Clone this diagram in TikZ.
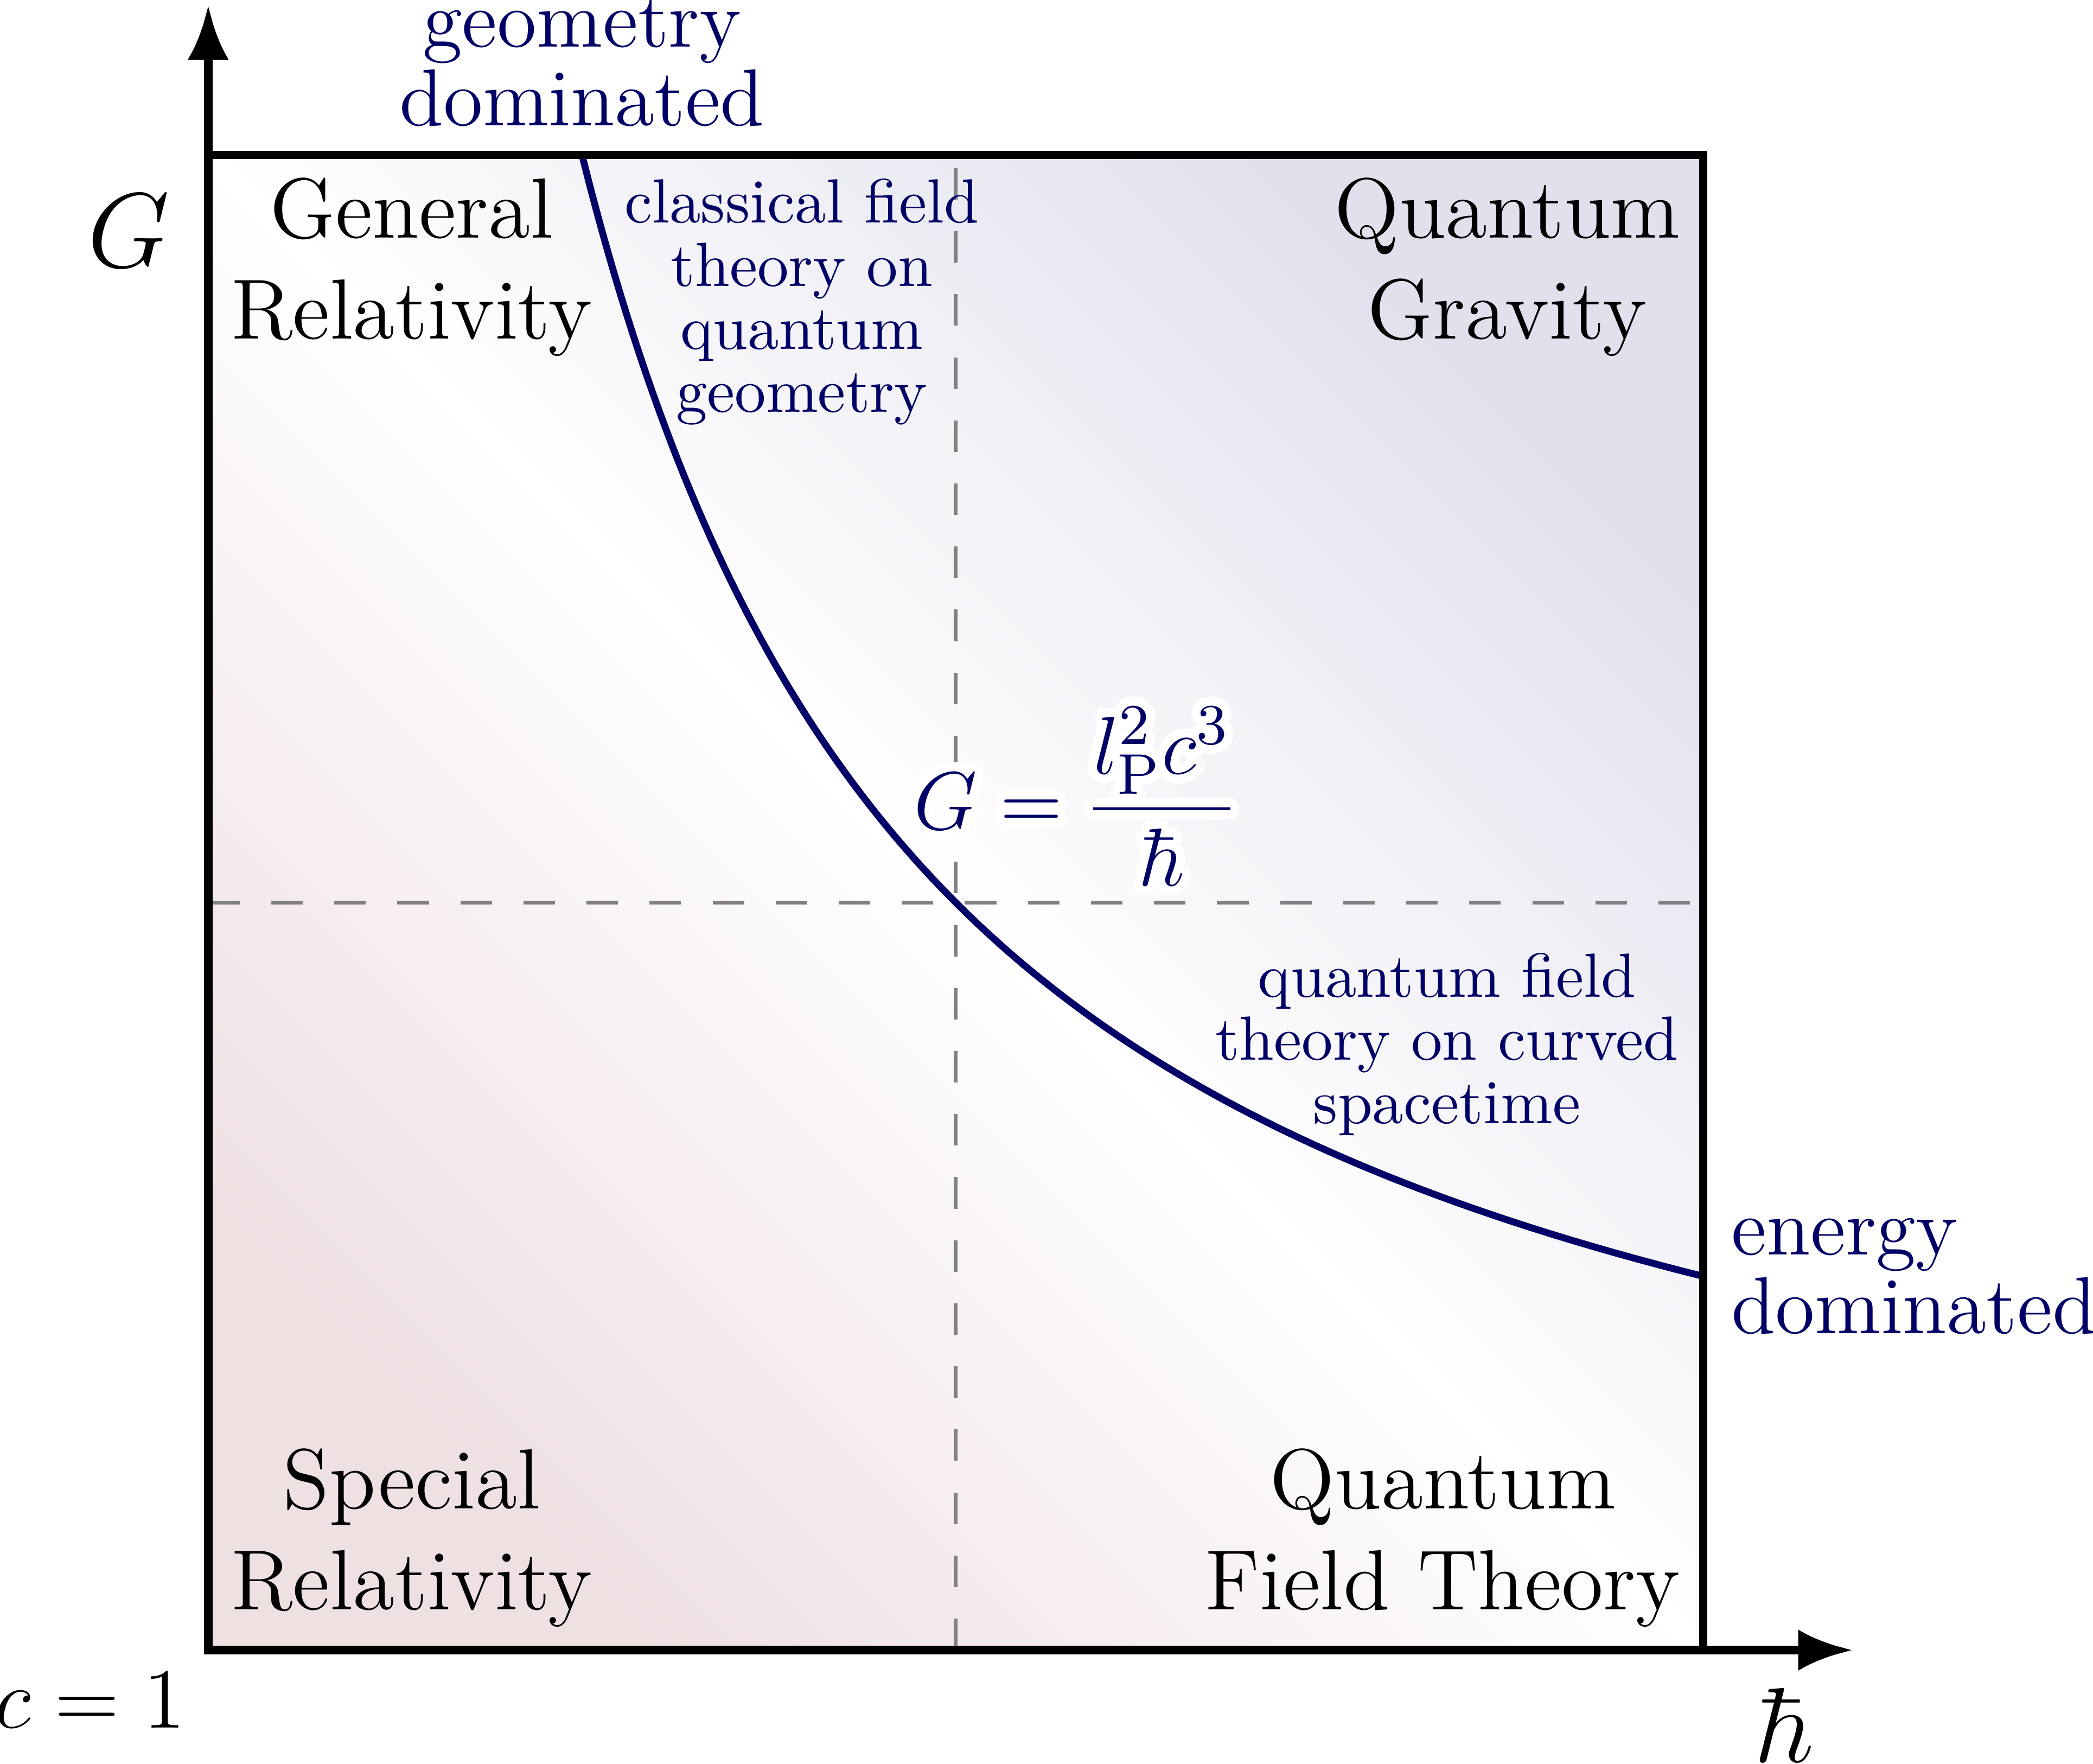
\RequirePackage{fix-cm}
\documentclass[tikz,border=0pt]{standalone}
\usepackage{xcolor}
\usepackage{tikz}
\usetikzlibrary{arrows.meta}
\definecolor{planckblue}{rgb}{0,0,0.4}
\definecolor{gravityshade}{RGB}{225,225,237}
\definecolor{flatshade}{RGB}{239,224,226}
\tikzset{%
    region label/.style={
            align=center,
            inner sep=3.3pt,
            font=\fontsize{13}{15.4}\selectfont
        },
    regime label/.style={
            text=planckblue,
            align=center,
            inner sep=0pt,
            font=\fontsize{9.5}{9.6}\selectfont
        },
    limit label/.style={
            text=planckblue,
            align=center,
            inner sep=4.1pt,
            font=\fontsize{12.3}{12}\selectfont
        },
    axis label/.style={
            inner sep=0pt,
            font=\fontsize{16.2}{19}\selectfont
        },
    planck label/.style={
            inner sep=0pt,
            font=\fontsize{12.5}{15}\selectfont
        },
}
\newcommand{\planckrelation}{$\displaystyle G=\frac{l_{\mathrm{P}}^{2}c^{3}}{\hbar}$}

\begin{document}
\begin{tikzpicture}[x=2cm, y=2cm, >={Latex[length=8.3pt,width=6.3pt]}]

        \useasboundingbox (-0.5571,-0.3036) rectangle (5.0429,4.4143);

        \coordinate (origin) at (0,0);
        \coordinate (corner) at (4,4);
        \coordinate (G-tip) at (0,4.4);
        \coordinate (hbar-tip) at (4.4,0);
        \coordinate (planck-pos) at (2.322,2.284);

        \shade [top color=gravityshade, bottom color=flatshade, middle color=white, shading angle=-45]
        (origin) rectangle (corner);

        \draw [gray, line width=0.6pt, dash pattern=on 4.8pt off 4.8pt]
        (2,0) -- (2,4) (0,2) -- (4,2);

        \draw [planckblue, line width=1.05pt, domain=1:4, samples=120, smooth]
        plot (\x,{4/\x});

        \draw [line width=1.3pt] (origin) rectangle (corner);
        \draw [->, line width=1.3pt] (origin) -- (G-tip);
        \draw [->, line width=1.3pt] (origin) -- (hbar-tip);

        \node [region label, anchor=north west] (GR) at (0,4) {General\\Relativity};
        \node [region label, anchor=north east] (QG) at (4,4) {Quantum\\Gravity};
        \node [region label, anchor=south west] (SR) at (0,0) {Special\\Relativity};
        \node [region label, anchor=south east] (QFT) at (4,0) {Quantum\\Field Theory};

        \node [regime label, anchor=north] (CFT) at (1.588,3.939)
        {classical field\\theory on\\quantum\\geometry};
        \node [regime label, anchor=north] (QFTCS) at (3.314,1.868)
        {quantum field\\theory on curved\\spacetime};

        \node [limit label, anchor=south] (geo) at (1,4) {geometry\\dominated};
        \node [limit label, anchor=west, align=left] (energy) at (4,1) {energy\\dominated};

        % white halo behind the relation
        \foreach \r in {0.7pt,1.4pt}
        \foreach \a in {0,22.5,...,337.5}
        \node [planck label, text=white] (halo-\a) at ([shift={(\a:\r)}]planck-pos) {\planckrelation};
        \node [planck label, text=planckblue] (planck) at (planck-pos) {\planckrelation};

        \node [axis label, anchor=base] (G-label) at (-0.213,3.70) {$G$};
        \node [axis label, anchor=base] (hbar-label) at (4.218,-0.300) {$\hbar$};
        \node [region label, anchor=north east] (units) at (origin) {$c=1$};

    \end{tikzpicture}
\end{document}
